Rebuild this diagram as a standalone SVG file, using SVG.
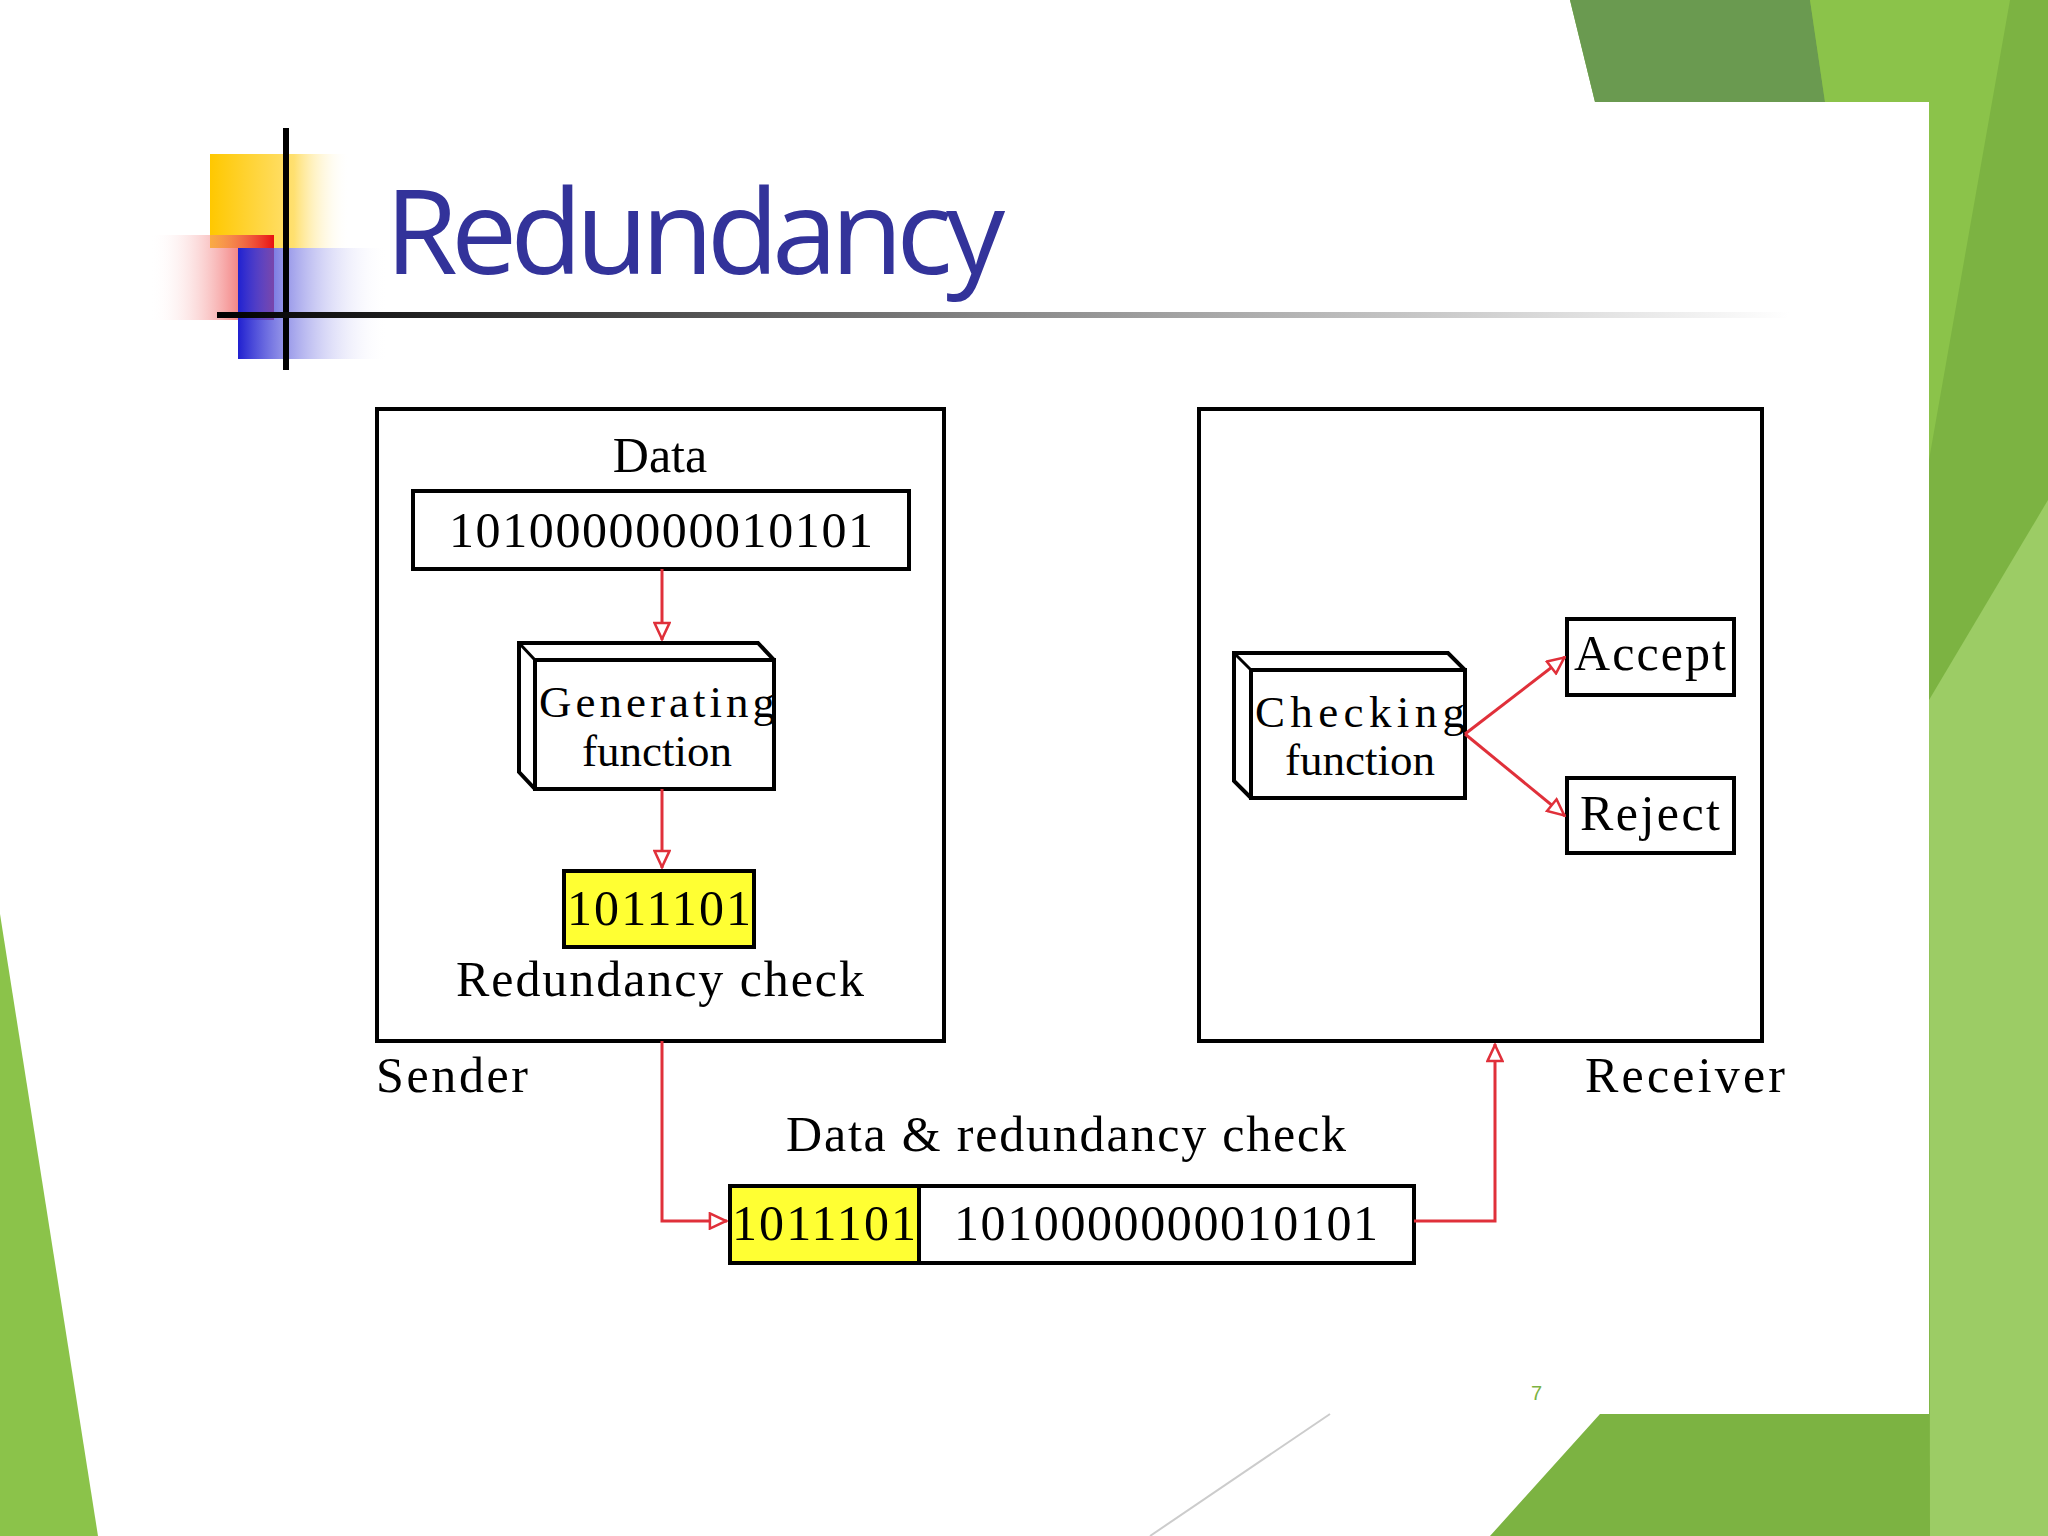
<svg xmlns="http://www.w3.org/2000/svg" width="2048" height="1536" viewBox="0 0 2048 1536">
<defs>
<style>
.t{font-family:"Liberation Serif","Times New Roman",serif;fill:#000;font-size:50px}
.s{font-size:45px}
.b{fill:#fff;stroke:#000;stroke-width:4}
.y{fill:#ffff33;stroke:#000;stroke-width:4}
.c{fill:none;stroke:#e0303a;stroke-width:3}
</style>
<marker id="ah" viewBox="0 0 10 10" refX="10" refY="5" markerWidth="20" markerHeight="18" orient="auto" markerUnits="userSpaceOnUse">
<path d="M0.5,0.8 L9.5,5 L0.5,9.2 Z" fill="#fff" stroke="#e0303a" stroke-width="1.4"/>
</marker>
<linearGradient id="ul" x1="0" x2="1"><stop offset="0" stop-color="#000"/><stop offset="0.5" stop-color="#888"/><stop offset="1" stop-color="#fff"/></linearGradient>
<linearGradient id="rg" x1="1" x2="0"><stop offset="0" stop-color="#e81010"/><stop offset="1" stop-color="#fff" stop-opacity="0"/></linearGradient>
<linearGradient id="bg" x1="0" x2="1"><stop offset="0" stop-color="#2020d0"/><stop offset="1" stop-color="#fff" stop-opacity="0"/></linearGradient>
<linearGradient id="yg" x1="0" x2="1"><stop offset="0" stop-color="#ffc800"/><stop offset="0.6" stop-color="#ffe070"/><stop offset="1" stop-color="#fff" stop-opacity="0"/></linearGradient>
</defs>
<rect width="2048" height="1536" fill="#fff"/>
<g id="background">
<polygon points="1570,0 2048,0 2048,1536 1490,1536 1600,1414 1929,1414 1929,102 1595,102" fill="#7cb342"/>
<polygon points="1570,0 1810,0 1825,102 1595,102" fill="#6a9a50"/>
<polygon points="1810,0 2010,0 1929,460 1929,102 1825,102" fill="#8bc34a"/>
<polygon points="1929,700 2048,500 2048,1536 1930,1536" fill="#9ccc65"/>
<polygon points="0,914 98,1536 0,1536" fill="#8bc34a"/>
<line x1="1150" y1="1536" x2="1330" y2="1414" stroke="#ccc" stroke-width="2"/>
<text x="1531" y="1400" font-family="Liberation Sans,sans-serif" font-size="20" fill="#7cb342">7</text>
</g>
<g id="title">
<rect x="210" y="154" width="140" height="94" fill="url(#yg)"/>
<rect x="150" y="235" width="124" height="85" fill="url(#rg)"/>
<rect x="238" y="248" width="150" height="111" fill="url(#bg)"/>
<line x1="286" y1="128" x2="286" y2="370" stroke="#000" stroke-width="6"/>
<rect x="217" y="312" width="1572" height="6" fill="url(#ul)"/>
<text x="385" y="274" font-family="Open Sans,Liberation Sans,sans-serif" font-size="118" fill="#33339a" textLength="620">Redundancy</text>
</g>
<g id="sender">
<rect class="b" x="377" y="409" width="567" height="632"/>
<text class="t" x="660" y="472" text-anchor="middle">Data</text>
<rect class="b" x="413" y="491" width="496" height="78"/>
<text class="t" x="661" y="547" text-anchor="middle" textLength="424">1010000000010101</text>
<text class="t" x="660" y="996" text-anchor="middle" textLength="408">Redundancy check</text>
<text class="t" x="376" y="1092" textLength="152">Sender</text>
</g>
<g id="generating">
<polygon class="b" points="519,643 758,643 774,660 774,789 535,789 519,772"/>
<line x1="519" y1="643" x2="535" y2="660" stroke="#000" stroke-width="3"/>
<rect class="b" x="535" y="660" width="239" height="129"/>
<text class="t s" x="657" y="717" text-anchor="middle" textLength="236">Generating</text>
<text class="t s" x="657" y="766" text-anchor="middle">function</text>
</g>
<g id="check">
<rect class="y" x="564" y="871" width="190" height="76"/>
<text class="t" x="659" y="925" text-anchor="middle" textLength="184">1011101</text>
</g>
<g id="receiver">
<rect class="b" x="1199" y="409" width="563" height="632"/>
<text class="t" x="1585" y="1092" textLength="200">Receiver</text>
</g>
<g id="checking">
<polygon class="b" points="1234,653 1448,653 1465,670 1465,798 1251,798 1234,781"/>
<line x1="1234" y1="653" x2="1251" y2="670" stroke="#000" stroke-width="3"/>
<rect class="b" x="1251" y="670" width="214" height="128"/>
<text class="t s" x="1360" y="727" text-anchor="middle" textLength="210">Checking</text>
<text class="t s" x="1360" y="775" text-anchor="middle">function</text>
</g>
<g id="accept"><rect class="b" x="1567" y="619" width="167" height="76"/><text class="t" x="1650" y="670" text-anchor="middle" textLength="152">Accept</text></g>
<g id="reject"><rect class="b" x="1567" y="778" width="167" height="75"/><text class="t" x="1650" y="830" text-anchor="middle" textLength="140">Reject</text></g>
<g id="packet">
<text class="t" x="1066" y="1151" text-anchor="middle" textLength="560">Data &amp; redundancy check</text>
<rect class="y" x="730" y="1186" width="189" height="77"/>
<rect class="b" x="919" y="1186" width="495" height="77"/>
<text class="t" x="824" y="1240" text-anchor="middle" textLength="184">1011101</text>
<text class="t" x="1166" y="1240" text-anchor="middle" textLength="424">1010000000010101</text>
</g>
<g id="connectors">
<line class="c" x1="662" y1="569" x2="662" y2="640" marker-end="url(#ah)"/>
<line class="c" x1="662" y1="789" x2="662" y2="868" marker-end="url(#ah)"/>
<polyline class="c" points="662,1041 662,1221 727,1221" marker-end="url(#ah)"/>
<polyline class="c" points="1414,1221 1495,1221 1495,1044" marker-end="url(#ah)"/>
<line class="c" x1="1465" y1="734" x2="1565" y2="657" marker-end="url(#ah)"/>
<line class="c" x1="1465" y1="734" x2="1565" y2="816" marker-end="url(#ah)"/>
</g>
</svg>
